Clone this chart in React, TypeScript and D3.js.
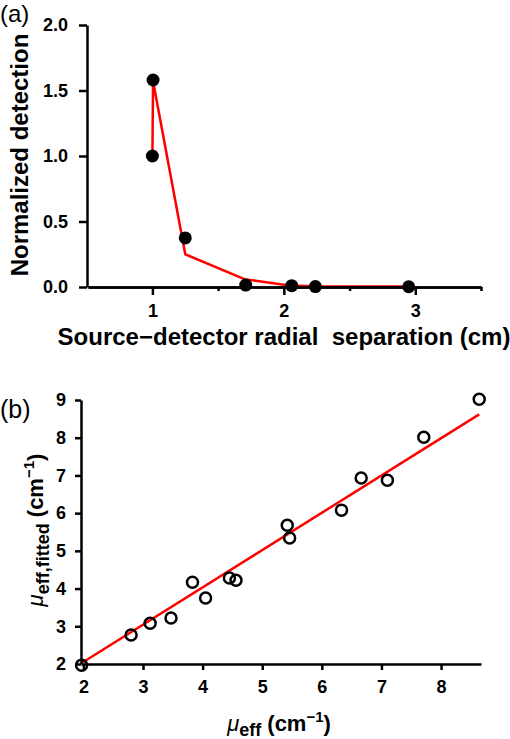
import React, { useEffect, useRef } from 'react';
import * as d3 from 'd3';

// panel (a) measured detection
const sepMeasured = [1.0, 1.005, 1.25, 1.71, 2.06, 2.24, 2.95];
const detMeasured = [1.0, 1.58, 0.375, 0.015, 0.01, 0.003, 0.002];
// panel (a) model curve
const sepModel = [1.0, 1.005, 1.25, 1.7, 2.04, 2.24, 2.95];
const detModel = [1.0, 1.57, 0.25, 0.06, 0.012, 0.006, 0.004];
const aXTicks = [1, 2, 3];
const aXMinor = [1.5, 2.5, 3.5];
const aYTicks = [0, 0.5, 1, 1.5, 2];

// panel (b) fitted vs true mu_eff
const muTrue = [1.97, 2.8, 3.12, 3.47, 3.83, 4.05, 4.45, 4.56, 5.42, 5.46, 6.33, 6.66, 7.1, 7.71, 8.64];
const muFitted = [1.97, 2.77, 3.08, 3.22, 4.17, 3.75, 4.28, 4.22, 5.68, 5.34, 6.08, 6.93, 6.87, 8.01, 9.02];
const fitX = [1.965, 8.64];
const fitY = [2.02, 8.62];
const bXTicks = [2, 3, 4, 5, 6, 7, 8];
const bYTicks = [2, 3, 4, 5, 6, 7, 8, 9];

const FONT = '"Liberation Sans", Arial, sans-serif';

export default function App() {
  const ref = useRef<SVGSVGElement>(null);

  useEffect(() => {
    const svg = d3.select(ref.current);
    svg.selectAll('*').remove();

    const styleAxis = (g: any, fs: number) => {
      g.selectAll('path.domain').attr('stroke', '#000').attr('stroke-width', 2.5);
      g.selectAll('.tick line').attr('stroke', '#000').attr('stroke-width', 2.5);
      g.selectAll('.tick text')
        .attr('fill', '#000')
        .attr('font-family', FONT)
        .attr('font-weight', 'bold')
        .attr('font-size', fs);
      g.attr('font-family', null).attr('font-size', null);
    };

    // ---------- panel (a) ----------
    const xa = d3.scaleLinear().domain([0.51, 3.5]).range([88, 481]);
    const ya = d3.scaleLinear().domain([0, 2]).range([287, 25]);

    const line = d3.line<[number, number]>().x((d) => d[0]).y((d) => d[1]);

    svg.append('path')
      .attr('d', line(sepModel.map((s, i) => [xa(s), ya(detModel[i])])))
      .attr('fill', 'none')
      .attr('stroke', '#ff0000')
      .attr('stroke-width', 2.5)
      .attr('stroke-linejoin', 'round');

    svg.append('g')
      .selectAll('circle')
      .data(sepMeasured)
      .enter()
      .append('circle')
      .attr('cx', (d) => xa(d))
      .attr('cy', (d, i) => ya(detMeasured[i]))
      .attr('r', 6.5)
      .attr('fill', '#000');

    const axA = svg.append('g').attr('transform', 'translate(0,287)')
      .call(d3.axisBottom(xa).tickValues(aXTicks).tickFormat(d3.format('d')).tickSize(8).tickSizeOuter(0).tickPadding(9));
    styleAxis(axA, 18);
    const axAMinor = svg.append('g').attr('transform', 'translate(0,287)')
      .call(d3.axisBottom(xa).tickValues(aXMinor).tickFormat(() => '').tickSize(4).tickSizeOuter(0));
    styleAxis(axAMinor, 18);
    const ayA = svg.append('g').attr('transform', 'translate(87,0)')
      .call(d3.axisLeft(ya).tickValues(aYTicks).tickFormat(d3.format('.1f')).tickSize(8).tickSizeOuter(0).tickPadding(11));
    styleAxis(ayA, 18);

    svg.append('text')
      .attr('x', 0).attr('y', 22)
      .attr('font-family', FONT).attr('font-size', 24)
      .text('(a)');

    svg.append('text')
      .attr('transform', 'translate(28,155) rotate(-90)')
      .attr('text-anchor', 'middle')
      .attr('font-family', FONT).attr('font-weight', 'bold').attr('font-size', 24)
      .text('Normalized detection');

    svg.append('text')
      .attr('x', 284).attr('y', 345)
      .attr('text-anchor', 'middle')
      .attr('font-family', FONT).attr('font-weight', 'bold').attr('font-size', 24)
      .style('white-space', 'pre')
      .text('Source\u2212detector radial  separation (cm)');

    // ---------- panel (b) ----------
    const xb = d3.scaleLinear().domain([1.96, 8.67]).range([81, 481]);
    const yb = d3.scaleLinear().domain([2, 9]).range([664, 400]);

    svg.append('path')
      .attr('d', line(fitX.map((v, i) => [xb(v), yb(fitY[i])])))
      .attr('fill', 'none')
      .attr('stroke', '#ff0000')
      .attr('stroke-width', 2.5);

    svg.append('g')
      .selectAll('circle')
      .data(muTrue)
      .enter()
      .append('circle')
      .attr('cx', (d) => xb(d))
      .attr('cy', (d, i) => yb(muFitted[i]))
      .attr('r', 5.5)
      .attr('fill', 'none')
      .attr('stroke', '#000')
      .attr('stroke-width', 2.5);

    const axB = svg.append('g').attr('transform', 'translate(0,664)')
      .call(d3.axisBottom(xb).tickValues(bXTicks).tickFormat(d3.format('d')).tickSize(6).tickSizeOuter(0).tickPadding(10));
    styleAxis(axB, 18);
    const ayB = svg.append('g').attr('transform', 'translate(81,0)')
      .call(d3.axisLeft(yb).tickValues(bYTicks).tickFormat(d3.format('d')).tickSize(6).tickSizeOuter(0).tickPadding(9));
    styleAxis(ayB, 18);

    svg.append('text')
      .attr('x', 0).attr('y', 418)
      .attr('font-family', FONT).attr('font-size', 25)
      .text('(b)');

    const yLab = svg.append('text')
      .attr('transform', 'translate(43,530) rotate(-90)')
      .attr('text-anchor', 'middle')
      .attr('font-family', FONT).attr('font-size', 22);
    yLab.append('tspan').attr('font-style', 'italic').text('\u03bc');
    yLab.append('tspan').attr('font-weight', 'bold').attr('font-size', 18).attr('dy', 6).text('eff,fitted');
    yLab.append('tspan').attr('font-weight', 'bold').attr('dy', -6).text(' (cm');
    yLab.append('tspan').attr('font-weight', 'bold').attr('font-size', 15).attr('dy', -9).text('\u22121');
    yLab.append('tspan').attr('font-weight', 'bold').attr('dy', 9).text(')');

    const xLab = svg.append('text')
      .attr('x', 279).attr('y', 731)
      .attr('text-anchor', 'middle')
      .attr('font-family', FONT).attr('font-size', 22);
    xLab.append('tspan').attr('font-style', 'italic').text('\u03bc');
    xLab.append('tspan').attr('font-weight', 'bold').attr('font-size', 18).attr('dy', 5).text('eff');
    xLab.append('tspan').attr('font-weight', 'bold').attr('dy', -5).text(' (cm');
    xLab.append('tspan').attr('font-weight', 'bold').attr('font-size', 15).attr('dy', -9).text('\u22121');
    xLab.append('tspan').attr('font-weight', 'bold').attr('dy', 9).text(')');
  }, []);

  return (
    <svg
      ref={ref}
      width={510}
      height={739}
      style={{ position: 'absolute', left: 0, top: 0, background: '#fff' }}
    />
  );
}
